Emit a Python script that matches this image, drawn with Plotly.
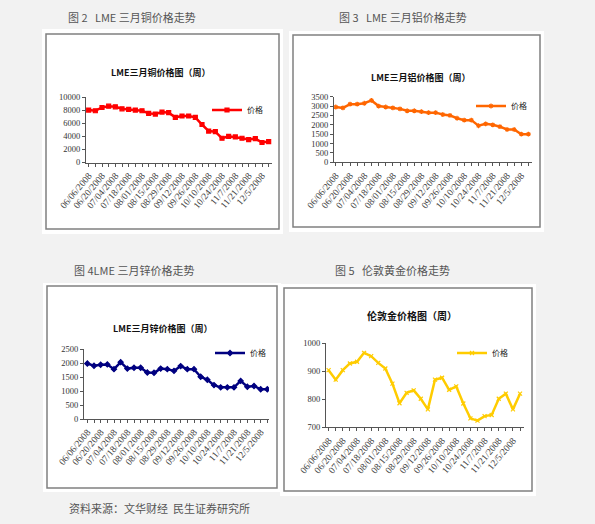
import plotly.graph_objects as go

W, H = 595, 524

dates = ["06/06/2008", "06/13/2008", "06/20/2008", "06/27/2008", "07/04/2008", "07/11/2008",
         "07/18/2008", "07/25/2008", "08/01/2008", "08/08/2008", "08/15/2008", "08/22/2008",
         "08/29/2008", "09/05/2008", "09/12/2008", "09/19/2008", "09/26/2008", "10/03/2008",
         "10/10/2008", "10/17/2008", "10/24/2008", "10/31/2008", "11/7/2008", "11/14/2008",
         "11/21/2008", "11/28/2008", "12/5/2008", "12/12/2008"]

copper = [8000, 7900, 8400, 8600, 8500, 8200, 8100, 8000, 7900, 7500, 7400, 7700, 7600, 6900,
          7100, 7100, 6900, 5800, 4800, 4700, 3700, 4000, 3900, 3700, 3500, 3650, 3050, 3200]
aluminum = [2950, 2900, 3100, 3100, 3150, 3300, 3000, 2950, 2900, 2850, 2750, 2750, 2700, 2650,
            2650, 2550, 2500, 2350, 2250, 2250, 1950, 2050, 2000, 1900, 1750, 1750, 1500, 1500]
zinc = [1980, 1900, 1940, 1950, 1780, 2030, 1800, 1830, 1830, 1660, 1650, 1800, 1780, 1720,
        1890, 1780, 1780, 1510, 1400, 1210, 1130, 1130, 1130, 1360, 1150, 1180, 1060, 1060]
gold = [904, 870, 904, 928, 934, 966, 954, 930, 910, 856, 786, 823, 832, 802,
        764, 870, 877, 834, 846, 785, 732, 724, 740, 744, 802, 820, 764, 820]

series_name = "价格"
titles = ["LME三月铜价格图（周）", "LME三月铝价格图（周）", "LME三月锌价格图（周）", "伦敦金价格图（周）"]
captions = ["图 2   LME 三月铜价格走势", "图 3   LME 三月铝价格走势", "图 4LME 三月锌价格走势", "图 5   伦敦黄金价格走势"]
footer = "资料来源：文华财经  民生证券研究所"

def px(x):
    return x / W

def py(y):
    return 1 - y / H

cnfont = "Noto Sans CJK SC"
numfont = "Liberation Serif"

charts = [
    dict(vals=copper, color="#ff0000", symbol="square", plot=(86, 272, 97, 162.5), yr=(0, 10000), dt=2000,
         xr=(-0.4, 27.5), frame=(46, 34, 279, 229), panel=(42, 29, 283, 234),
         title_xy=(160, 72), leg_xy=(207, 110), cap_xy=(66, 17), title_size=9),
    dict(vals=aluminum, color="#ff6600", symbol="asterisk-open", plot=(334, 532, 96.7, 162.3), yr=(0, 3500), dt=500,
         xr=(-0.25, 27.5), frame=(293, 35, 540, 227), panel=(289, 31, 544, 232),
         title_xy=(420, 78), leg_xy=(471, 106), cap_xy=(337, 17), title_size=9),
    dict(vals=zinc, color="#000080", symbol="diamond", plot=(84, 269, 349, 419), yr=(0, 2500), dt=500,
         xr=(-0.5, 27.25), frame=(47, 286, 277, 488), panel=(43, 283, 281, 492),
         title_xy=(162, 328), leg_xy=(210, 353), cap_xy=(72, 270), title_size=9),
    dict(vals=gold, color="#ffcc00", symbol="x-thin-open", plot=(326, 524, 343.3, 427.3), yr=(700, 1000), dt=100,
         xr=(-0.37, 27.56), frame=(284, 288, 532, 491), panel=(280, 284, 536, 496),
         title_xy=(412, 315), leg_xy=(452, 353), cap_xy=(333, 270), title_size=10),
]

fig = go.Figure()
shapes = []
annotations = []
layout = {}

ticktext = [d if i % 2 == 0 else "" for i, d in enumerate(dates)]

for i, c in enumerate(charts):
    n = i + 1
    xa = "x" if n == 1 else f"x{n}"
    ya = "y" if n == 1 else f"y{n}"
    lg = "legend" if n == 1 else f"legend{n}"
    fig.add_trace(go.Scatter(
        x=dates, y=c["vals"], mode="lines+markers", name=series_name,
        line=dict(color=c["color"], width=2.5),
        marker=dict(symbol=c["symbol"], size=4, color=c["color"],
                    line=dict(color=c["color"], width=1.2)),
        xaxis=xa, yaxis=ya, legend=lg, showlegend=True,
    ))
    x0, x1, ytop, ybot = c["plot"]
    layout["xaxis" if n == 1 else f"xaxis{n}"] = dict(
        domain=[px(x0), px(x1)], anchor=ya, type="category", range=list(c["xr"]),
        tickmode="array", tickvals=dates, ticktext=ticktext, tickangle=-50,
        ticks="outside", ticklen=3, tickcolor="#555555", tickwidth=1, automargin=False,
        showline=True, linecolor="#555555", linewidth=1, showgrid=False, zeroline=False,
        tickfont=dict(family=numfont, size=9.5, color="#444444"), fixedrange=True,
    )
    layout["yaxis" if n == 1 else f"yaxis{n}"] = dict(
        domain=[py(ybot), py(ytop)], anchor=xa, range=list(c["yr"]), dtick=c["dt"], tick0=c["yr"][0],
        tickformat="d", automargin=False,
        ticks="outside", ticklen=3, tickcolor="#555555", tickwidth=1,
        showline=True, linecolor="#555555", linewidth=1, showgrid=False, zeroline=False,
        tickfont=dict(family=numfont, size=8.5, color="#333333"), fixedrange=True,
    )
    lx, ly = c["leg_xy"]
    layout[lg] = dict(
        x=px(lx), y=py(ly), xanchor="left", yanchor="middle", bgcolor="rgba(0,0,0,0)",
        font=dict(family=cnfont, size=8, color="#222222"), itemwidth=30,
        tracegroupgap=0,
    )
    a, b, cc, d = c["panel"]
    shapes.append(dict(type="rect", xref="paper", yref="paper", x0=px(a), x1=px(cc), y0=py(d), y1=py(b),
                       fillcolor="white", line=dict(width=0), layer="below"))
    a, b, cc, d = c["frame"]
    shapes.append(dict(type="rect", xref="paper", yref="paper", x0=px(a), x1=px(cc), y0=py(d), y1=py(b),
                       fillcolor="rgba(0,0,0,0)", line=dict(width=1.5, color="#808080"), layer="below"))
    tx, ty = c["title_xy"]
    annotations.append(dict(text="<b>" + titles[i] + "</b>", x=px(tx), y=py(ty), xref="paper", yref="paper",
                            xanchor="center", yanchor="middle", showarrow=False,
                            font=dict(family=cnfont, size=c["title_size"], color="#111111")))
    cx, cy = c["cap_xy"]
    annotations.append(dict(text=captions[i], x=px(cx), y=py(cy), xref="paper", yref="paper",
                            xanchor="left", yanchor="middle", showarrow=False,
                            font=dict(family=cnfont, size=11, color="#555555")))

annotations.append(dict(text=footer, x=px(67), y=py(508), xref="paper", yref="paper",
                        xanchor="left", yanchor="middle", showarrow=False,
                        font=dict(family=cnfont, size=11, color="#555555")))

fig.update_layout(
    width=W, height=H, margin=dict(l=0, r=0, t=0, b=0, autoexpand=False),
    paper_bgcolor="#f2f2f2", plot_bgcolor="rgba(0,0,0,0)",
    shapes=shapes, annotations=annotations, **layout,
)

fig.write_html("out.html", config={"displayModeBar": False})
